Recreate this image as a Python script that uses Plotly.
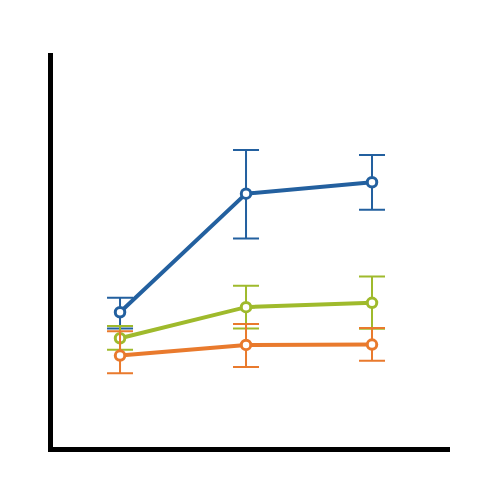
import plotly.graph_objects as go

# x positions of the three groups
groups = [1, 2, 3]

# series means
blue_y = [3.42, 6.43, 6.72]
green_y = [2.76, 3.55, 3.66]
orange_y = [2.32, 2.59, 2.60]

# error bar lengths (up / down)
blue_up = [0.37, 1.11, 0.69]
blue_down = [0.41, 1.14, 0.70]
green_up = [0.31, 0.54, 0.67]
green_down = [0.29, 0.54, 0.66]
orange_up = [0.62, 0.53, 0.42]
orange_down = [0.45, 0.56, 0.41]

series = [
    ("blue", blue_y, blue_up, blue_down, "#23609f"),
    ("green", green_y, green_up, green_down, "#9fba2c"),
    ("orange", orange_y, orange_up, orange_down, "#e97a2d"),
]

fig = go.Figure()

for name, ys, up, down, color in series:
    fig.add_trace(go.Scatter(
        x=groups,
        y=ys,
        name=name,
        mode="lines+markers",
        line=dict(color=color, width=4),
        marker=dict(symbol="circle", size=9.5, color="white",
                    line=dict(color=color, width=3)),
        error_y=dict(type="data", array=up, arrayminus=down, symmetric=False,
                     color=color, thickness=2, width=13),
    ))

# page body adds an 8px offset, so margins are trimmed by that much
fig.update_layout(
    width=500,
    height=500,
    margin=dict(l=45, r=58, t=45, b=60.5),
    paper_bgcolor="white",
    plot_bgcolor="white",
    showlegend=False,
    xaxis=dict(range=[0.468, 3.619], showline=True, linecolor="black", linewidth=5,
               showgrid=False, zeroline=False, showticklabels=False, ticks=""),
    yaxis=dict(range=[0, 10], showline=True, linecolor="black", linewidth=5,
               showgrid=False, zeroline=False, showticklabels=False, ticks=""),
)

fig.write_html("out.html")
